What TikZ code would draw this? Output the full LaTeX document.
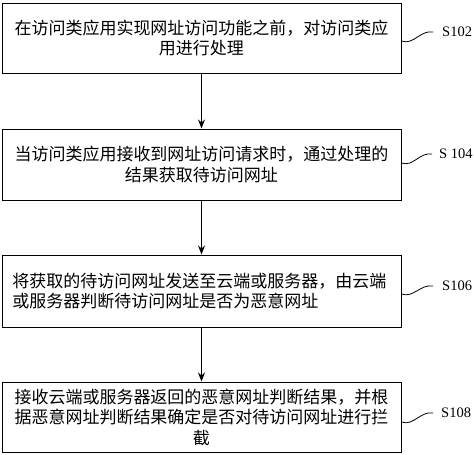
\documentclass[tikz,border=0pt]{standalone}
\usepackage{fontspec}
\setmainfont{Liberation Serif}
\newfontfamily\cjk{Noto Sans CJK SC}
\usetikzlibrary{arrows.meta}

\tikzset{
  stepbox/.style={draw, line width=1pt, minimum width=399pt, text width=378pt,
    align=center, inner sep=0pt, font=\cjk\fontsize{17}{20.5}\selectfont},
  steplabel/.style={anchor=west, inner sep=0pt, font=\fontsize{14.5}{16}\selectfont},
  flow/.style={-{Stealth[length=9pt,width=7pt]}, line width=1pt},
  wave/.style={line width=0.8pt}
}

\begin{document}
\begin{tikzpicture}[x=1pt,y=-1pt]
\useasboundingbox (0,0) rectangle (474,455);

% steps
\node[stepbox, minimum height=70pt] (s102) at (201.5,38)
  {在访问类应用实现网址访问功能之前，对访问类应\\用进行处理};
\node[stepbox, minimum height=71pt] (s104) at (201.5,164.5)
  {当访问类应用接收到网址访问请求时，通过处理的\\结果获取待访问网址};
\node[stepbox, minimum height=72pt, align=left] (s106) at (201.5,291)
  {将获取的待访问网址发送至云端或服务器，由云端\\或服务器判断待访问网址是否为恶意网址};
\node[stepbox, minimum height=70pt] (s108) at (201.5,417)
  {接收云端或服务器返回的恶意网址判断结果，并根\\据恶意网址判断结果确定是否对待访问网址进行拦\\截};

\draw [flow] (s102) -- (s104);
\draw [flow] (s104) -- (s106);
\draw [flow] (s106) -- (s108);

% labels
\node[steplabel] (l102) at (442,32) {S102};
\node[steplabel] (l104) at (439,154) {S 104};
\node[steplabel] (l106) at (442,286) {S106};
\node[steplabel] (l108) at (441,413) {S108};

\draw [wave] ([yshift=-3pt]s102.east) to[out=-20,in=170] ([xshift=-9pt]l102.west);
\draw [wave] ([yshift=1.5pt]s104.east) to[out=-20,in=170] ([xshift=-7pt]l104.west);
\draw [wave] ([yshift=-3pt]s106.east) to[out=-20,in=170] ([xshift=-9pt]l106.west);
\draw [wave] ([yshift=-5pt]s108.east) to[out=-20,in=170] ([xshift=-8pt]l108.west);

\end{tikzpicture}
\end{document}
